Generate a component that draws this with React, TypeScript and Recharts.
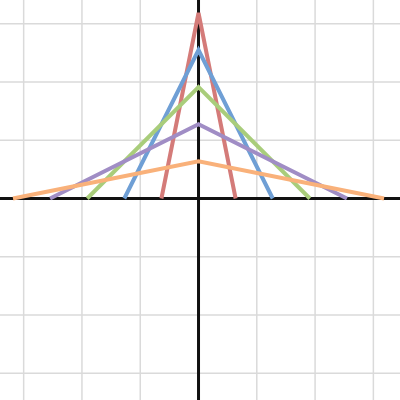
import { LineChart, Line, XAxis, YAxis, ReferenceLine } from 'recharts'

// triangles: half width along x, peak height on y
const names = ['red', 'blue', 'green', 'purple', 'orange']
const halfWidths = [1, 2, 3, 4, 5]
const peaks = [5, 4, 3, 2, 1]
const colors = ['#d47b79', '#6f9fd5', '#a9cd7b', '#a08dc5', '#f9b17a']

// grid at multiples of pi/2
const gridSteps = [-3, -2, -1, 1, 2, 3]
const gridTicks = gridSteps.map((k) => (k * Math.PI) / 2)

const series = names.map((name, i) => ({
    name,
    color: colors[i],
    points: [
        { x: -halfWidths[i], y: 0 },
        { x: 0, y: peaks[i] },
        { x: halfWidths[i], y: 0 },
    ],
}))

export default function App() {
    return (
        <div style={{ position: 'fixed', left: 0, top: 0, width: 400, height: 400, background: '#fff' }}>
            <LineChart width={400} height={400} margin={{ top: 0, right: 0, bottom: 0, left: 0 }}>
                <XAxis type="number" dataKey="x" domain={[-5.35, 5.43]} allowDataOverflow hide />
                <YAxis type="number" dataKey="y" domain={[-5.43, 5.35]} allowDataOverflow hide />

                {gridTicks.map((t) => (
                    <ReferenceLine key={`gx-${t}`} x={t} stroke="#dadada" strokeWidth={1.5} />
                ))}
                {gridTicks.map((t) => (
                    <ReferenceLine key={`gy-${t}`} y={t} stroke="#dadada" strokeWidth={1.5} />
                ))}

                <ReferenceLine x={0} stroke="#111" strokeWidth={3} />
                <ReferenceLine y={0} stroke="#111" strokeWidth={3} />

                {series.map((s) => (
                    <Line
                        key={s.name}
                        data={s.points}
                        dataKey="y"
                        stroke={s.color}
                        strokeWidth={4}
                        dot={false}
                        activeDot={false}
                        isAnimationActive={false}
                    />
                ))}
            </LineChart>
        </div>
    )
}
